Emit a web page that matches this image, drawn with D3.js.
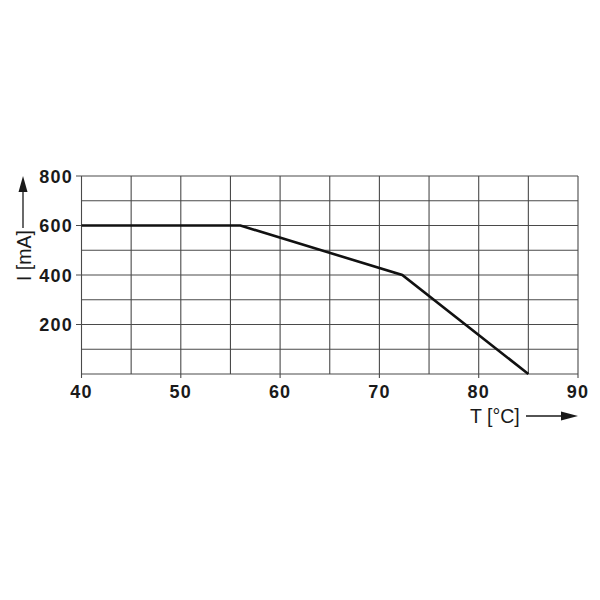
<!DOCTYPE html>
<html><head><meta charset="utf-8">
<script src="https://cdn.jsdelivr.net/npm/d3@7"></script>
<style>body{margin:0;background:#fff}</style>
</head><body>
<svg id="c" width="600" height="600"></svg>
<script>
const tempValues = [40, 56, 72.3, 85];
const currentValues = [600, 600, 400, 0];
const xTickLabels = [40, 50, 60, 70, 80, 90];
const yTickLabels = [200, 400, 600, 800];
const xGrid = d3.range(40, 91, 5);
const yGrid = d3.range(0, 801, 100);
const xTitle = "T [°C]";
const yTitle = "I [mA]";

const svg = d3.select("#c");
const x = d3.scaleLinear().domain([40, 90]).range([81.5, 578]);
const y = d3.scaleLinear().domain([0, 800]).range([374, 176]);
const gridColor = "#4a4a4a";
const font = "'Liberation Sans', Arial, sans-serif";

// grid
svg.append("g").selectAll("line.v").data(xGrid).join("line")
  .attr("x1", d => x(d)).attr("x2", d => x(d))
  .attr("y1", y(800)).attr("y2", d => xTickLabels.includes(d) ? y(0) + 4 : y(0))
  .attr("stroke", gridColor).attr("stroke-width", 1.1);
svg.append("g").selectAll("line.h").data(yGrid).join("line")
  .attr("x1", d => yTickLabels.includes(d) ? x(40) - 5.5 : x(40)).attr("x2", x(90))
  .attr("y1", d => y(d)).attr("y2", d => y(d))
  .attr("stroke", gridColor).attr("stroke-width", 1.1);

// tick labels
svg.append("g").selectAll("text").data(xTickLabels).join("text")
  .attr("x", d => x(d)).attr("y", 397.5)
  .attr("text-anchor", "middle")
  .attr("font-family", font).attr("font-weight", "bold").attr("font-size", 18)
  .attr("letter-spacing", 1.2)
  .attr("fill", "#1a1a1a").text(d => d);
svg.append("g").selectAll("text").data(yTickLabels).join("text")
  .attr("x", 73).attr("y", d => y(d) + 6.5)
  .attr("text-anchor", "end")
  .attr("font-family", font).attr("font-weight", "bold").attr("font-size", 18)
  .attr("letter-spacing", 1.2)
  .attr("fill", "#1a1a1a").text(d => d);

// data line
const pts = tempValues.map((t, i) => [t, currentValues[i]]);
svg.append("path").datum(pts)
  .attr("d", d3.line().x(d => x(d[0])).y(d => y(d[1])))
  .attr("fill", "none").attr("stroke", "#111").attr("stroke-width", 2.6)
  .attr("stroke-linejoin", "miter");

// axis titles
svg.append("text").attr("x", 470).attr("y", 423)
  .attr("font-family", font).attr("font-size", 19.5).attr("fill", "#1a1a1a").text(xTitle);
svg.append("line").attr("x1", 526).attr("x2", 563).attr("y1", 416).attr("y2", 416)
  .attr("stroke", "#1a1a1a").attr("stroke-width", 1.3);
svg.append("path").attr("d", "M561,411.5 L578,416 L561,420.5 Z").attr("fill", "#1a1a1a");

svg.append("text").attr("transform", "translate(30.5,281) rotate(-90)")
  .attr("font-family", font).attr("font-size", 19.5).attr("fill", "#1a1a1a").text(yTitle);
svg.append("line").attr("x1", 23).attr("x2", 23).attr("y1", 228).attr("y2", 190)
  .attr("stroke", "#1a1a1a").attr("stroke-width", 1.3);
svg.append("path").attr("d", "M18.5,192 L23,176 L27.5,192 Z").attr("fill", "#1a1a1a");
</script>
</body></html>
